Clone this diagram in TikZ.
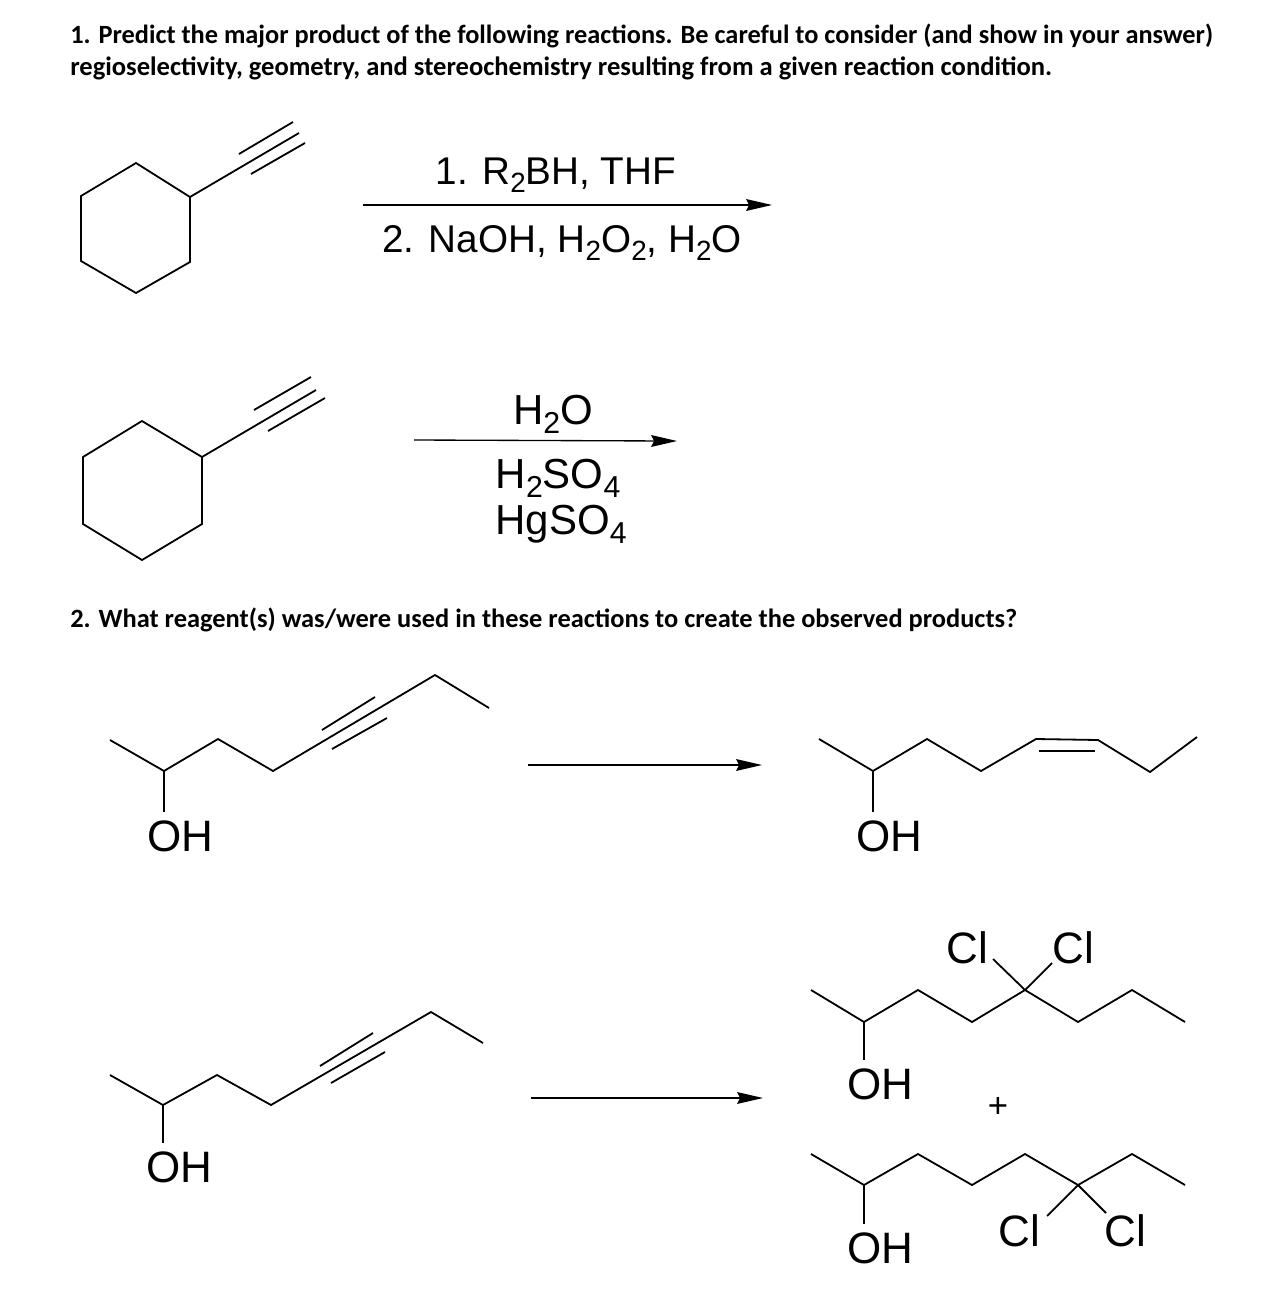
\documentclass[tikz,border=0pt]{standalone}
\usepackage{fontspec}
\setmainfont{Liberation Sans}
\newfontfamily\headfont{Carlito}
\tikzset{
  x=0.75pt,y=-0.75pt,
  bond/.style={line width=1.35pt,line cap=butt,line join=miter,black},
  rx/.style={line width=1.0pt,black},
  tip/.style={fill=black,draw=none},
  chem/.style={inner sep=0pt,font=\fontsize{33}{33}\selectfont},
  reaga/.style={inner sep=0pt,font=\fontsize{29}{29}\selectfont},
  reagb/.style={inner sep=0pt,font=\fontsize{31.5}{31.5}\selectfont},
  head/.style={inner sep=0pt,anchor=west,font=\headfont\bfseries\fontsize{19.75}{19.75}\selectfont},
  headb/.style={inner sep=0pt,anchor=west,font=\headfont\bfseries\fontsize{19.93}{19.93}\selectfont},
  headc/.style={inner sep=0pt,anchor=west,font=\headfont\bfseries\fontsize{19.81}{19.81}\selectfont},
}
\newcommand{\sbs}[1]{\raisebox{-0.22em}{\scalebox{0.72}{#1}}}
\newcommand{\rxarrow}[2]{%
  \draw[rx] (#1) -- (#2);
  \fill[tip] (#2) ++(10,0) -- ++(-26,-6) -- ++(3,6) -- ++(-3,6) -- cycle;}
\begin{document}
\begin{tikzpicture}
\useasboundingbox (0,0) rectangle (1275,1298);
\fill[white] (0,0) rectangle (1275,1298);
\node[head] (h1) at (70,36) {1. Predict the major product of the following reactions. Be careful to consider (and show in your answer)};
\node[headb] (h2) at (70,68) {regioselectivity, geometry, and stereochemistry resulting from a given reaction condition.};
\node[headc] (h3) at (70,620) {2. What reagent(s) was/were used in these reactions to create the observed products?};

% cyclohexane 1
\draw[bond] (136,163) -- (190,197) -- (190,262) -- (136,293) -- (81,261) -- (81,196) -- cycle;
\draw[bond] (190,197) -- (299,133);
\draw[bond] (239,154) -- (293,122);
\draw[bond] (251,174) -- (305,143);
% reaction 1
\node[reaga] (r1a) at (556,175) {1. R\sbs{2}BH, THF};
\node[reaga] (r1b) at (562,243) {2. NaOH, H\sbs{2}O\sbs{2}, H\sbs{2}O};
\coordinate (a1s) at (363,205); \coordinate (a1e) at (762,205);
\rxarrow{a1s}{a1e}

% cyclohexane 2
\draw[bond] (142,421) -- (202,457) -- (202,524) -- (142,560) -- (83,524) -- (83,457) -- cycle;
\draw[bond] (202,457) -- (316,390);
\draw[bond] (254,410) -- (311,377);
\draw[bond] (268,431) -- (325,398);
% reaction 2
\node[reagb] (r2a) at (553,414) {H\sbs{2}O};
\node[reagb] (r2b) at (558,478) {H\sbs{2}SO\sbs{4}};
\node[reagb] (r2c) at (561,524) {HgSO\sbs{4}};
\coordinate (a2s) at (414,440); \coordinate (a2e) at (667,441);
\rxarrow{a2s}{a2e}

% alkyne row 1
\node[chem] (oh1) at (180,836) {OH};
\coordinate (b1) at (164,812);
\draw[bond] (164,771) -- (b1);
\draw[bond] (110,740) -- (164,771) -- (218,739) -- (273,771) -- (435,675) -- (489,708);
\draw[bond] (322,730) -- (375,697);
\draw[bond] (332,749) -- (387,718);
\coordinate (a3s) at (528,765); \coordinate (a3e) at (752,765);
\rxarrow{a3s}{a3e}
% alkene
\node[chem] (oh2) at (889,836) {OH};
\coordinate (b2) at (873,812);
\draw[bond] (873,771) -- (b2);
\draw[bond] (819,739) -- (873,771) -- (927,739) -- (981,771) -- (1036,739) -- (1098,740) -- (1150,772) -- (1197,737);
\draw[bond] (1039,751) -- (1095,751);

% alkyne row 2
\node[chem] (oh3) at (179,1167) {OH};
\coordinate (b3) at (163,1143);
\draw[bond] (163,1105) -- (b3);
\draw[bond] (110,1075) -- (163,1105) -- (217,1075) -- (271,1105) -- (431,1012) -- (483,1043);
\draw[bond] (320,1066) -- (373,1033);
\draw[bond] (331,1083) -- (385,1052);
\coordinate (a4s) at (531,1098); \coordinate (a4e) at (753,1098);
\rxarrow{a4s}{a4e}

% dichloride top
\node[chem] (oh4) at (880,1084) {OH};
\coordinate (b4) at (864,1060);
\draw[bond] (864,1022) -- (b4);
\draw[bond] (811,990) -- (864,1022) -- (918,990) -- (972,1022) -- (1025,990) -- (1078,1022) -- (1132,990) -- (1185,1022);
\node[chem] (cl1) at (967,948) {Cl};
\node[chem] (cl2) at (1073,948) {Cl};
\coordinate (c1) at (993,959); \coordinate (c2) at (1052,963);
\coordinate (q1) at (1025,990);
\draw[bond] (q1) -- (c1);
\draw[bond] (q1) -- (c2);
\node[inner sep=0pt,font=\fontsize{26}{26}\selectfont] (plus) at (998,1107) {+};

% dichloride bottom
\node[chem] (oh5) at (880,1248) {OH};
\coordinate (b5) at (864,1224);
\draw[bond] (864,1185) -- (b5);
\draw[bond] (811,1154) -- (864,1185) -- (918,1154) -- (972,1185) -- (1025,1154) -- (1078,1185) -- (1132,1154) -- (1185,1185);
\node[chem] (cl3) at (1019,1231) {Cl};
\node[chem] (cl4) at (1125,1231) {Cl};
\coordinate (c3) at (1047,1216); \coordinate (c4) at (1106,1213);
\coordinate (q2) at (1078,1185);
\draw[bond] (q2) -- (c3);
\draw[bond] (q2) -- (c4);
\end{tikzpicture}
\end{document}
